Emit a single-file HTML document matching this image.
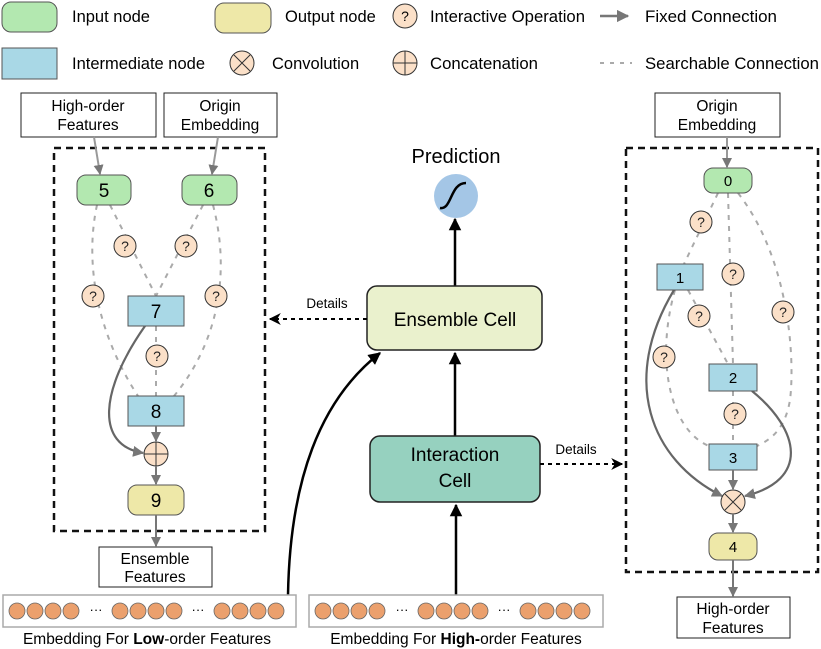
<!DOCTYPE html>
<html><head><meta charset="utf-8"><style>
html,body{margin:0;padding:0;background:#fff;}
svg{display:block;font-family:"Liberation Sans",Arial,sans-serif;}
</style></head><body>
<svg width="821" height="649" viewBox="0 0 821 649" xmlns="http://www.w3.org/2000/svg">
<defs>
<marker id="ga" viewBox="0 0 10 10" refX="9" refY="5" markerWidth="5" markerHeight="5" orient="auto"><path d="M0,0 L10,5 L0,10 z" fill="#777"/></marker>
<marker id="ba" viewBox="0 0 10 10" refX="9" refY="5" markerWidth="5" markerHeight="6" orient="auto"><path d="M0,0 L10,5 L0,10 z" fill="#000"/></marker>
<marker id="da" viewBox="0 0 10 10" refX="9" refY="5" markerWidth="6" markerHeight="6" orient="auto"><path d="M0,0 L10,5 L0,10 L3,5 z" fill="#000"/></marker>
<g id="q"><circle r="11" fill="#fbe0c8" stroke="#333" stroke-width="1"/><text y="5" text-anchor="middle" font-size="14" fill="#222">?</text></g>
</defs>

<!-- Legend -->
<g font-size="16.5">
<rect x="2" y="2" width="55" height="30" rx="9" fill="#b3e8b0" stroke="#555"/>
<text x="72" y="22">Input node</text>
<rect x="215" y="3" width="56" height="30" rx="9" fill="#eee8a8" stroke="#555"/>
<text x="285" y="22">Output node</text>
<circle cx="405" cy="16" r="12" fill="#fbe0c8" stroke="#333"/><text x="405" y="21" text-anchor="middle" font-size="14">?</text>
<text x="430" y="22" textLength="155" lengthAdjust="spacingAndGlyphs">Interactive Operation</text>
<line x1="600" y1="16" x2="628" y2="16" stroke="#777" stroke-width="2.5" marker-end="url(#ga)"/>
<text x="645" y="22" textLength="132" lengthAdjust="spacingAndGlyphs">Fixed Connection</text>
<rect x="2" y="48" width="55" height="31" fill="#a9d8e6" stroke="#555"/>
<text x="72" y="69">Intermediate node</text>
<circle cx="242" cy="63" r="12" fill="#fbe0c8" stroke="#333"/><path d="M234,55 L250,71 M250,55 L234,71" stroke="#333"/>
<text x="272" y="69">Convolution</text>
<circle cx="405" cy="63" r="12" fill="#fbe0c8" stroke="#333"/><path d="M393,63 L417,63 M405,51 L405,75" stroke="#333"/>
<text x="430" y="69" textLength="108" lengthAdjust="spacingAndGlyphs">Concatenation</text>
<line x1="600" y1="63" x2="632" y2="63" stroke="#aaa" stroke-width="2" stroke-dasharray="4,6"/>
<text x="645" y="69" textLength="174" lengthAdjust="spacingAndGlyphs">Searchable Connection</text>
</g>

<!-- Left panel -->
<rect x="21" y="93" width="135" height="44" fill="#fff" stroke="#222"/>
<text x="88" y="111" text-anchor="middle" font-size="15.5">High-order</text><text x="88" y="130" text-anchor="middle" font-size="15.5">Features</text>
<rect x="164" y="93" width="113" height="44" fill="#fff" stroke="#222"/>
<text x="220" y="111" text-anchor="middle" font-size="15.5">Origin</text><text x="220" y="130" text-anchor="middle" font-size="15.5">Embedding</text>
<rect x="54" y="148" width="211" height="383" fill="none" stroke="#111" stroke-width="2.5" stroke-dasharray="7,5"/>
<line x1="94" y1="137" x2="100" y2="174" stroke="#999" stroke-width="2" marker-end="url(#ga)"/>
<line x1="218" y1="137" x2="212" y2="174" stroke="#999" stroke-width="2" marker-end="url(#ga)"/>
<g fill="none" stroke="#aaa" stroke-width="2" stroke-dasharray="5,6">
<path d="M97,205 C85,260 95,330 138,396"/>
<path d="M110,205 L156,296"/>
<path d="M203,205 L156,296"/>
<path d="M213,205 C230,270 220,340 174,396"/>
<path d="M156,326 L156,396"/>
</g>
<rect x="77" y="175" width="54" height="30" rx="9" fill="#b3e8b0" stroke="#555"/><text x="104" y="197" text-anchor="middle" font-size="19">5</text>
<rect x="182" y="175" width="55" height="30" rx="9" fill="#b3e8b0" stroke="#555"/><text x="209" y="197" text-anchor="middle" font-size="19">6</text>
<use href="#q" x="125" y="246"/><use href="#q" x="186" y="246"/><use href="#q" x="93" y="296"/><use href="#q" x="216" y="296"/><use href="#q" x="157" y="356"/>
<rect x="128" y="296" width="56" height="30" fill="#a9d8e6" stroke="#555"/><text x="156" y="318" text-anchor="middle" font-size="19">7</text>
<rect x="128" y="396" width="56" height="30" fill="#a9d8e6" stroke="#555"/><text x="156" y="418" text-anchor="middle" font-size="19">8</text>
<path d="M145,326 C100,390 95,445 143,453" fill="none" stroke="#666" stroke-width="2.2" marker-end="url(#ga)"/>
<line x1="156" y1="426" x2="156" y2="441" stroke="#777" stroke-width="2" marker-end="url(#ga)"/>
<circle cx="156" cy="454" r="12" fill="#fbe0c8" stroke="#333"/><path d="M144,454 L168,454 M156,442 L156,466" stroke="#333"/>
<line x1="156" y1="466" x2="156" y2="484" stroke="#777" stroke-width="2" marker-end="url(#ga)"/>
<rect x="128" y="485" width="56" height="30" rx="9" fill="#eee8a8" stroke="#555"/><text x="156" y="507" text-anchor="middle" font-size="19">9</text>
<line x1="156" y1="515" x2="156" y2="546" stroke="#777" stroke-width="2" marker-end="url(#ga)"/>
<rect x="99" y="547" width="113" height="40" fill="#fff" stroke="#222"/>
<text x="155" y="564" text-anchor="middle" font-size="15.5">Ensemble</text><text x="155" y="582" text-anchor="middle" font-size="15.5">Features</text>

<!-- Middle -->
<text x="456" y="163" text-anchor="middle" font-size="20">Prediction</text>
<circle cx="456" cy="196" r="22" fill="#a4c6e6"/>
<path d="M440,208 C452,210 450,183 466,183" fill="none" stroke="#000" stroke-width="2.5"/>
<line x1="455" y1="286" x2="455" y2="219" stroke="#000" stroke-width="2.5" marker-end="url(#ba)"/>
<rect x="367" y="286" width="175" height="64" rx="10" fill="#eaf1cd" stroke="#222" stroke-width="1.5"/>
<text x="455" y="326" text-anchor="middle" font-size="19">Ensemble Cell</text>
<line x1="367" y1="319" x2="270" y2="319" stroke="#000" stroke-width="2" stroke-dasharray="4,4" marker-end="url(#da)"/>
<text x="327" y="308" text-anchor="middle" font-size="13.5">Details</text>
<line x1="455" y1="436" x2="455" y2="353" stroke="#000" stroke-width="2.5" marker-end="url(#ba)"/>
<rect x="370" y="436" width="170" height="66" rx="10" fill="#96d1bf" stroke="#222" stroke-width="1.5"/>
<text x="455" y="461" text-anchor="middle" font-size="19">Interaction</text><text x="455" y="487" text-anchor="middle" font-size="19">Cell</text>
<line x1="540" y1="464" x2="622" y2="464" stroke="#000" stroke-width="2" stroke-dasharray="4,4" marker-end="url(#da)"/>
<text x="576" y="454" text-anchor="middle" font-size="13.5">Details</text>
<line x1="456" y1="595" x2="456" y2="505" stroke="#000" stroke-width="2.5" marker-end="url(#ba)"/>
<path d="M288,595 C290,480 320,400 380,353" fill="none" stroke="#000" stroke-width="2.5" marker-end="url(#ba)"/>

<!-- Embedding bars -->
<rect x="3" y="595" width="293" height="32" fill="#fff" stroke="#aaa" stroke-width="1.5"/>
<rect x="309" y="595" width="294" height="32" fill="#fff" stroke="#aaa" stroke-width="1.5"/>
<g fill="#eba06d" stroke="#666" stroke-width="0.8">
<circle cx="17" cy="611" r="8"/><circle cx="35" cy="611" r="8"/><circle cx="53" cy="611" r="8"/><circle cx="71" cy="611" r="8"/>
<circle cx="120" cy="611" r="8"/><circle cx="138" cy="611" r="8"/><circle cx="156" cy="611" r="8"/><circle cx="174" cy="611" r="8"/>
<circle cx="222" cy="611" r="8"/><circle cx="240" cy="611" r="8"/><circle cx="258" cy="611" r="8"/><circle cx="276" cy="611" r="8"/>
<circle cx="323" cy="611" r="8"/><circle cx="341" cy="611" r="8"/><circle cx="359" cy="611" r="8"/><circle cx="377" cy="611" r="8"/>
<circle cx="426" cy="611" r="8"/><circle cx="444" cy="611" r="8"/><circle cx="462" cy="611" r="8"/><circle cx="480" cy="611" r="8"/>
<circle cx="528" cy="611" r="8"/><circle cx="546" cy="611" r="8"/><circle cx="564" cy="611" r="8"/><circle cx="582" cy="611" r="8"/>
</g>
<g font-size="13" text-anchor="middle"><text x="96" y="614">···</text><text x="198" y="614">···</text><text x="402" y="614">···</text><text x="504" y="614">···</text></g>
<text x="147" y="644" text-anchor="middle" font-size="15.5">Embedding For <tspan font-weight="bold">Low</tspan>-order Features</text>
<text x="456" y="644" text-anchor="middle" font-size="15.5">Embedding For <tspan font-weight="bold">High-</tspan>order Features</text>

<!-- Right panel -->
<rect x="655" y="93" width="125" height="44" fill="#fff" stroke="#222"/>
<text x="717" y="111" text-anchor="middle" font-size="15.5">Origin</text><text x="717" y="130" text-anchor="middle" font-size="15.5">Embedding</text>
<rect x="626" y="148" width="192" height="424" fill="none" stroke="#111" stroke-width="2.5" stroke-dasharray="7,5"/>
<line x1="727" y1="137" x2="727" y2="167" stroke="#999" stroke-width="2" marker-end="url(#ga)"/>
<g fill="none" stroke="#aaa" stroke-width="2" stroke-dasharray="5,6">
<path d="M718,193 L684,264"/>
<path d="M728,193 L733,364"/>
<path d="M738,193 C790,260 795,360 790,400 C785,430 770,440 757,446"/>
<path d="M688,290 L728,364"/>
<path d="M675,290 C655,360 670,430 709,446"/>
<path d="M733,391 L733,444"/>
</g>
<path d="M674,290 C620,380 650,460 722,496" fill="none" stroke="#666" stroke-width="2.2" marker-end="url(#ga)"/>
<path d="M752,391 C800,430 810,480 745,496" fill="none" stroke="#666" stroke-width="2.2" marker-end="url(#ga)"/>
<rect x="704" y="168" width="48" height="25" rx="9" fill="#b3e8b0" stroke="#555"/><text x="728" y="186" text-anchor="middle" font-size="15">0</text>
<rect x="657" y="264" width="46" height="26" fill="#a9d8e6" stroke="#555"/><text x="680" y="283" text-anchor="middle" font-size="15">1</text>
<rect x="709" y="364" width="48" height="27" fill="#a9d8e6" stroke="#555"/><text x="733" y="383" text-anchor="middle" font-size="15">2</text>
<rect x="709" y="444" width="48" height="26" fill="#a9d8e6" stroke="#555"/><text x="733" y="463" text-anchor="middle" font-size="15">3</text>
<use href="#q" x="701" y="222"/><use href="#q" x="733" y="274"/><use href="#q" x="699" y="316"/><use href="#q" x="783" y="312"/><use href="#q" x="664" y="357"/><use href="#q" x="735" y="414"/>
<line x1="733" y1="470" x2="733" y2="489" stroke="#777" stroke-width="2" marker-end="url(#ga)"/>
<circle cx="733" cy="502" r="12" fill="#fbe0c8" stroke="#333"/><path d="M725,494 L741,510 M741,494 L725,510" stroke="#333"/>
<line x1="733" y1="514" x2="733" y2="532" stroke="#777" stroke-width="2" marker-end="url(#ga)"/>
<rect x="709" y="533" width="48" height="27" rx="9" fill="#eee8a8" stroke="#555"/><text x="733" y="552" text-anchor="middle" font-size="15">4</text>
<line x1="733" y1="560" x2="733" y2="596" stroke="#777" stroke-width="2" marker-end="url(#ga)"/>
<rect x="677" y="597" width="113" height="41" fill="#fff" stroke="#222"/>
<text x="733" y="614" text-anchor="middle" font-size="15.5">High-order</text><text x="733" y="633" text-anchor="middle" font-size="15.5">Features</text>
</svg>
</body></html>
